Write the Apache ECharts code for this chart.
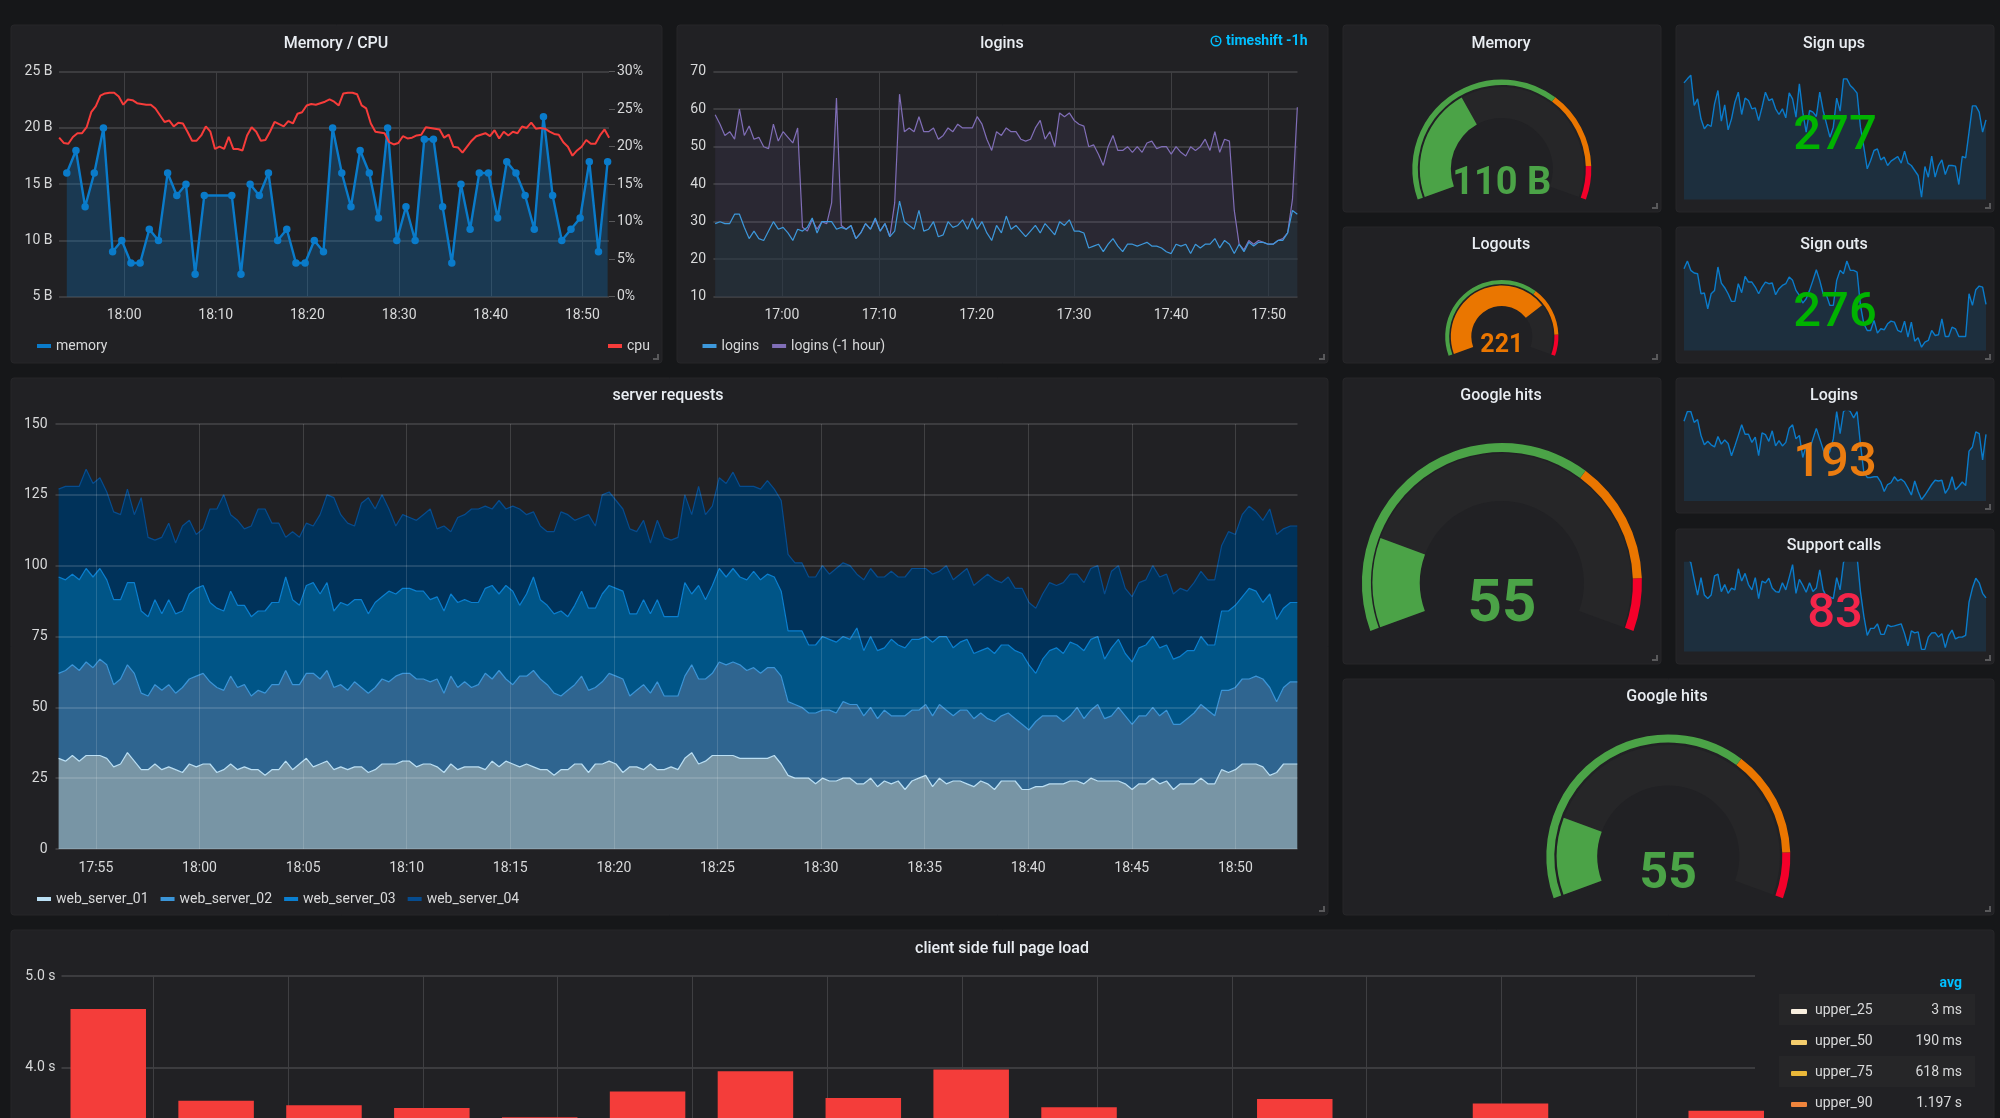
<!DOCTYPE html>
<html>
<head>
<meta charset="utf-8">
<title>Grafana dashboard</title>
<script src="https://cdn.jsdelivr.net/npm/echarts@6/dist/echarts.min.js"></script>
<style>
  html, body { margin: 0; padding: 0; background: #161719; }
  #chart { width: 2000px; height: 1118px; }
</style>
</head>
<body>
<div id="chart"></div>
<script>
// Memory / CPU
const memoryBytes = [16, 18, 13, 16, 20, 9, 10, 8, 8, 11, 10, 16, 14, 15, 7, 14, null, null, 14, 7, 15, 14, 16, 10, 11, 8, 8, 10, 9, 20,
  16, 13, 18, 16, 12, 20, 10, 13, 10, 19, 19, 13, 8, 15, 11, 16, 16, 12, 17, 16, 14, 11, 21, 14, 10, 11, 12, 17, 9, 17];
const cpuPercent = [21.2, 20.5, 20.4, 21.3, 21.8, 21.8, 22.6, 24.6, 25.4, 26.8, 27.1, 27.2, 27.2, 26.7, 25.6, 26.3, 26.2, 25.8, 25.7, 25.6,
  25.6, 25.1, 24.2, 23.3, 23.5, 22.7, 23.2, 23.1, 22.0, 20.8, 20.8, 21.5, 22.7, 22.0, 19.7, 20.0, 19.7, 21.3, 19.7, 19.7,
  19.5, 21.5, 22.6, 22.0, 20.8, 20.9, 22.0, 23.3, 23.0, 22.7, 23.4, 23.1, 24.4, 24.6, 25.5, 25.7, 25.6, 25.8, 26.0, 26.3,
  26.0, 25.5, 27.1, 27.2, 27.2, 27.0, 25.5, 25.1, 23.1, 22.0, 21.9, 21.8, 20.6, 20.3, 20.5, 21.4, 21.1, 21.2, 21.5, 21.6,
  22.6, 22.5, 22.4, 22.3, 21.2, 21.6, 20.0, 19.9, 19.2, 20.0, 20.8, 21.4, 21.6, 21.8, 21.4, 22.2, 21.1, 22.0, 21.5, 22.0,
  21.8, 22.7, 22.5, 23.2, 22.4, 22.5, 22.4, 22.0, 21.7, 21.6, 20.6, 20.0, 18.8, 19.5, 20.0, 20.9, 20.4, 20.4, 21.5, 22.3, 21.2];

// logins
const loginsNow = [29.5, 30, 29.5, 29.5, 32, 32, 28.5, 25.5, 27.5, 25.5,
  25, 27.5, 30, 28, 28.5, 27, 25, 28, 27.5, 28.5,
  31, 27, 30, 30, 30, 28, 28.5, 28, 29, 25.5,
  27, 29.5, 28, 31, 27.5, 29.5, 26, 27.5, 35.5, 30,
  29, 28, 33, 27.5, 28, 30, 26, 26.5, 30, 28.5,
  29, 30.5, 28, 31, 28, 30, 27, 25, 29, 27,
  31.5, 28, 29, 27.5, 26, 27.5, 29, 27, 29.5, 28,
  26.5, 30, 29, 30.5, 27.5, 27.5, 27, 23, 23.5, 24,
  22, 24, 25.5, 23.5, 22, 24, 24, 23.5, 24, 24.5,
  23.5, 23.5, 23, 22, 21.5, 24, 23.5, 24, 21.5, 24,
  23, 24, 24, 25.5, 23, 25, 24, 21.5, 24, 22,
  24.5, 23.5, 24.5, 24.5, 24, 24, 25, 25, 27, 33, 32];
const loginsHourAgo = [58.5, 56, 53, 54, 52, 60, 53, 55.5, 52, 52.5,
  50, 49.5, 56, 51.5, 54, 52.5, 51, 55, 28.5, 27.5,
  30.5, 28, 30, 29.5, 35, 63, 29, 28, 29, 25.5,
  27, 29.5, 28, 30.5, 27.5, 29.5, 26, 35, 64, 54,
  55, 54, 58, 54, 54, 55, 52, 53, 55, 54,
  56, 55, 55, 55, 58, 56, 52, 49, 54, 53,
  55, 54, 54, 52, 51.5, 52, 55, 57, 52, 54,
  50, 59, 58, 59, 57, 56, 55.5, 50, 50.5, 48,
  45, 50, 53, 49, 49, 50, 48.5, 50, 48.5, 51,
  51.5, 49.5, 50, 50, 48, 50, 48.5, 47.5, 50, 49,
  50, 52, 49, 54, 48.5, 52, 51.5, 33, 24, 22.5,
  25, 24, 25, 24.5, 24, 24, 25, 25.5, 27, 36, 60.5];

const topOfServer01 = [32, 31, 33, 31, 33, 33, 33, 32, 29, 30,
  34, 31, 28, 28, 30, 28, 29, 28, 27, 30,
  29, 30, 30, 27, 28, 30, 28, 29, 28, 28,
  26, 28, 28, 31, 28, 30, 32, 29, 30, 31,
  28, 29, 28, 29, 29, 27, 28, 30, 30, 30,
  31, 31, 29, 30, 30, 29, 27, 30, 28, 29,
  29, 29, 28, 31, 29, 31, 30, 29, 30, 29,
  28, 28, 26, 28, 28, 30, 30, 27, 30, 30,
  31, 30, 27, 29, 29, 28, 30, 28, 28, 29,
  28, 32, 34, 30, 31, 33, 33, 33, 33, 32,
  32, 32, 32, 32, 33, 30, 26, 25, 25, 25,
  23, 25, 24, 24, 25, 25, 23, 23, 25, 22,
  24, 23, 24, 21, 24, 25, 26, 22, 25, 23,
  24, 24, 23, 22, 24, 23, 21, 24, 24, 24,
  21, 21, 22, 22, 23, 23, 23, 24, 24, 23,
  25, 24, 24, 24, 24, 23, 21, 23, 23, 25,
  23, 24, 21, 23, 23, 23, 25, 23, 23, 28,
  27, 28, 30, 30, 30, 29, 26, 27, 30, 30, 30];
const topOfServer02 = [62, 63, 65, 63, 66, 64, 67, 65, 58, 60,
  65, 62, 55, 54, 58, 56, 58, 55, 57, 60,
  61, 62, 59, 57, 56, 61, 57, 58, 54, 56,
  55, 58, 58, 63, 58, 58, 62, 62, 60, 63,
  57, 58, 56, 59, 57, 55, 57, 60, 59, 61,
  62, 62, 60, 60, 59, 60, 55, 61, 57, 59,
  57, 58, 62, 60, 63, 60, 58, 61, 61, 63,
  60, 58, 55, 54, 56, 58, 61, 56, 57, 59,
  62, 61, 60, 54, 56, 58, 55, 59, 54, 54,
  54, 61, 65, 60, 60, 62, 66, 65, 66, 65,
  63, 64, 62, 64, 64, 61, 52, 51, 50, 48,
  48, 49, 49, 48, 52, 51, 51, 47, 50, 46,
  49, 47, 47, 47, 49, 49, 51, 47, 51, 49,
  47, 49, 49, 46, 48, 46, 45, 47, 48, 46,
  44, 42, 45, 47, 47, 47, 45, 47, 50, 46,
  49, 51, 46, 47, 50, 47, 44, 47, 47, 50,
  47, 49, 44, 44, 46, 48, 51, 49, 47, 56,
  56, 57, 60, 60, 61, 60, 57, 52, 57, 59, 59];
const topOfServer03 = [96, 95, 97, 95, 99, 96, 99, 95, 88, 88,
  94, 94, 84, 82, 88, 83, 88, 83, 84, 90,
  92, 93, 87, 85, 84, 91, 86, 86, 82, 84,
  84, 87, 87, 96, 88, 86, 93, 94, 90, 94,
  84, 87, 86, 88, 88, 83, 87, 89, 91, 90,
  92, 92, 91, 91, 88, 89, 84, 90, 87, 88,
  87, 87, 92, 93, 90, 93, 91, 86, 90, 96,
  88, 86, 83, 84, 82, 86, 91, 85, 85, 90,
  93, 92, 91, 83, 83, 88, 83, 88, 82, 82,
  82, 94, 90, 93, 88, 93, 99, 96, 99, 96,
  95, 98, 95, 97, 96, 91, 77, 77, 77, 72,
  72, 75, 74, 73, 75, 74, 78, 70, 75, 70,
  71, 74, 72, 71, 74, 74, 75, 73, 75, 75,
  71, 73, 74, 69, 70, 71, 69, 72, 72, 70,
  69, 65, 62, 67, 70, 71, 69, 73, 72, 70,
  74, 75, 67, 71, 74, 69, 66, 71, 72, 75,
  71, 72, 67, 68, 70, 70, 75, 72, 72, 84,
  84, 86, 89, 92, 91, 87, 90, 81, 85, 87, 87];
const topOfServer04 = [127, 128, 128, 128, 134, 129, 131, 126, 119, 118,
  127, 118, 124, 110, 109, 110, 115, 108, 114, 116,
  111, 113, 120, 120, 125, 118, 116, 113, 114, 120,
  120, 115, 115, 110, 112, 110, 115, 114, 118, 125,
  124, 118, 115, 114, 122, 124, 120, 125, 120, 114,
  118, 117, 116, 118, 120, 113, 114, 112, 117, 118,
  120, 120, 121, 120, 123, 120, 121, 120, 118, 119,
  114, 112, 112, 119, 118, 116, 117, 118, 114, 125,
  126, 123, 120, 113, 112, 116, 108, 116, 110, 109,
  110, 125, 118, 128, 118, 121, 131, 129, 133, 128,
  128, 128, 127, 130, 127, 123, 104, 101, 101, 96,
  96, 100, 97, 99, 101, 100, 97, 95, 99, 96,
  96, 98, 96, 96, 99, 99, 99, 97, 98, 100,
  95, 97, 99, 93, 95, 97, 95, 94, 96, 92,
  92, 87, 85, 90, 94, 93, 94, 97, 97, 94,
  99, 100, 90, 98, 100, 92, 89, 94, 95, 100,
  96, 97, 90, 92, 91, 94, 98, 95, 95, 107,
  112, 111, 118, 121, 119, 116, 120, 111, 113, 114, 114];

// sparklines (no axis in the picture, so values are relative heights)
const signUps = [350, 362, 373, 282, 302, 242, 212, 225, 219, 287, 327, 235, 284, 209, 242, 292, 322, 255, 304, 297,
  272, 275, 237, 277, 322, 297, 302, 272, 255, 272, 245, 320, 302, 247, 347, 262, 202, 267, 262, 249,
  322, 267, 227, 187, 217, 304, 265, 362, 362, 342, 332, 319, 217, 157, 92, 117, 147, 152, 119, 127,
  102, 115, 122, 129, 109, 145, 109, 102, 87, 72, 7, 99, 67, 130, 67, 102, 119, 75, 102, 102,
  100, 45, 129, 125, 202, 281, 281, 262, 202, 239];
const signOuts = [245, 268, 240, 232, 230, 170, 172, 125, 170, 180, 250, 202, 188, 170, 147, 147, 200, 173, 222, 205,
  205, 190, 170, 190, 205, 200, 202, 167, 185, 195, 200, 220, 210, 180, 165, 142, 155, 180, 210, 242,
  210, 170, 165, 135, 135, 210, 240, 230, 268, 240, 240, 235, 135, 80, 60, 60, 90, 52, 65, 62,
  80, 88, 85, 60, 55, 88, 40, 85, 28, 38, 10, 25, 30, 60, 45, 47, 95, 42, 42, 70,
  65, 42, 42, 42, 170, 135, 182, 193, 190, 138];
const loginsSpark = [227, 255, 255, 224, 232, 187, 160, 170, 160, 154, 184, 162, 174, 164, 129, 157, 187, 217, 190, 190,
  167, 182, 129, 194, 189, 170, 200, 157, 172, 157, 167, 207, 217, 177, 187, 124, 157, 147, 177, 207,
  177, 147, 122, 142, 177, 255, 192, 255, 262, 255, 237, 255, 162, 82, 67, 67, 69, 69, 54, 27,
  47, 52, 69, 57, 62, 54, 37, 17, 57, 27, 4, 17, 32, 47, 59, 57, 59, 22, 37, 69,
  32, 42, 54, 44, 142, 154, 197, 192, 117, 190];
const supportCalls = [266, 266, 254, 206, 161, 211, 161, 151, 161, 216, 221, 171, 191, 166, 181, 176, 236, 201, 223, 191,
  176, 211, 151, 201, 196, 209, 181, 171, 169, 196, 176, 211, 248, 166, 206, 189, 169, 196, 171, 181,
  233, 176, 156, 156, 151, 211, 176, 254, 271, 271, 271, 271, 171, 101, 46, 66, 66, 79, 49, 49,
  76, 71, 73, 76, 79, 51, 16, 59, 53, 56, 6, 6, 41, 53, 54, 41, 51, 11, 46, 61,
  36, 41, 41, 46, 141, 181, 209, 196, 166, 153];

// client side full page load, seconds; bars 10, 12 and 14 end below the visible part
const pageLoadSeconds = [4.64, 3.64, 3.59, 3.56, 3.46, 3.74, 3.96, 3.67, 3.98, 3.57, 3.3, 3.66, 3.3, 3.61, 3.3, 3.53];
const pageLoadLegendNames = ['upper_25', 'upper_50', 'upper_75', 'upper_90'];
const pageLoadLegendAvgs = ['3 ms', '190 ms', '618 ms', '1.197 s'];

// gauges and single stats
const gaugeMax = 300;
const gaugeThresholds = [200, 270];
const memoryGaugeValue = 110;
const logoutsGaugeValue = 221;
const googleHitsGaugeValue = 55;
const signUpsTotal = 277;
const signOutsTotal = 276;
const loginsTotal = 193;
const supportCallsTotal = 83;

const FONT = 'Roboto, "Noto Sans", sans-serif';
const TEXT = '#d8d9da';
const TITLE = '#e9edf2';
const GRID_H = '#464648';
const GRID_V = '#3f3f42';
const PANEL = '#212124';
const GREEN = '#4ba347';
const ORANGE = '#ea7600';
const RED = '#f4002a';
const BLUE = '#0a7bca';
const MIN = 60000;

const clock = (h, m, s = 0) => Date.UTC(2018, 0, 1, h, m, s);
const timed = (values, first, step) => values.map((v, i) => [first + i * step, v]);
const difference = (upper, lower) => upper.map((v, i) => v - lower[i]);

const grid = [];
const xAxis = [];
const yAxis = [];
const series = [];
const legend = [];
const title = [];
const graphic = [];

function addGrid(left, top, width, height) {
  // outerBoundsMode none: the page load grid runs past the bottom of the page on purpose
  grid.push({ left, top, width, height, outerBoundsMode: 'none' });
}

function addPanel(x, y, w, h, corner = true) {
  graphic.push({
    type: 'rect', z: -5, silent: true,
    shape: { x, y, width: w, height: h, r: 3 },
    style: { fill: PANEL, stroke: '#262629', lineWidth: 1 },
  });
  if (corner) {
    // resize handle in the bottom right corner
    graphic.push({
      type: 'polyline', z: -4, silent: true,
      shape: { points: [[x + w - 9, y + h - 4], [x + w - 4, y + h - 4], [x + w - 4, y + h - 9]] },
      style: { stroke: '#59595b', lineWidth: 2, fill: null },
    });
  }
}

function addTitle(text, x, y) {
  title.push({
    text, left: x, top: y, textAlign: 'center', textVerticalAlign: 'middle', padding: 0,
    textStyle: { color: TITLE, fontFamily: FONT, fontSize: 16, fontWeight: 500 },
  });
}

function addText(text, x, y, fontSize, color, align = 'center', fontWeight = 400) {
  graphic.push({
    type: 'text', z: 100, silent: true, x, y,
    style: { text, fontFamily: FONT, fontSize, fontWeight, fill: color, align, verticalAlign: 'middle' },
  });
}

function timeAxis(gridIndex, min, max, tickMinutes) {
  return {
    type: 'time', gridIndex, min, max,
    // keep the axis on min..max even with wide bars on it
    containShape: false,
    // ECharts rounds the tick interval down, so ask for slightly more than wanted
    minInterval: (tickMinutes + 0.5) * MIN,
    maxInterval: (tickMinutes + 0.5) * MIN,
    axisLine: { show: false },
    axisTick: { show: false },
    axisLabel: {
      color: TEXT, fontFamily: FONT, fontSize: 14, margin: 12,
      formatter: '{HH}:{mm}', showMinLabel: false, showMaxLabel: false, hideOverlap: false,
    },
    splitLine: { show: true, showMinLine: false, showMaxLine: false, lineStyle: { color: GRID_V, width: 1 } },
  };
}

function valueAxis(gridIndex, min, max, interval, formatter, margin) {
  return {
    type: 'value', gridIndex, min, max, interval,
    axisLine: { show: false },
    axisTick: { show: false },
    axisLabel: { color: TEXT, fontFamily: FONT, fontSize: 14, margin, formatter },
    splitLine: { show: true, lineStyle: { color: GRID_H, width: 1.5 } },
  };
}

function legendAt(left, top, names, itemGap = 14) {
  legend.push({
    left, top, data: names, icon: 'rect', itemWidth: 14, itemHeight: 4, itemGap,
    padding: 0, selectedMode: false,
    textStyle: { color: TEXT, fontFamily: FONT, fontSize: 14 },
  });
}

function addGauge(value, cx, cy, radius, ringWidth, arcOuter, arcInner, fontSize, offsetY, suffix = '') {
  const colour = value >= gaugeThresholds[1] ? RED : value >= gaugeThresholds[0] ? ORANGE : GREEN;
  const common = {
    type: 'gauge', center: [cx, cy], startAngle: 200, endAngle: -20, min: 0, max: gaugeMax,
    pointer: { show: false }, anchor: { show: false }, axisTick: { show: false },
    splitLine: { show: false }, axisLabel: { show: false }, title: { show: false },
    animation: false, silent: true,
  };
  // thin threshold ring
  series.push({
    ...common, radius,
    axisLine: {
      lineStyle: {
        width: ringWidth,
        color: [[gaugeThresholds[0] / gaugeMax, GREEN], [gaugeThresholds[1] / gaugeMax, ORANGE], [1, RED]],
      },
    },
    detail: { show: false },
    data: [{ value }],
  });
  // thick value arc
  series.push({
    ...common, radius: arcOuter,
    axisLine: { lineStyle: { width: arcOuter - arcInner, color: [[1, '#262628']] } },
    progress: { show: true, width: arcOuter - arcInner, itemStyle: { color: colour } },
    detail: {
      show: true, offsetCenter: [0, offsetY], color: colour, fontFamily: FONT, fontSize, fontWeight: 700,
      formatter: (v) => v + suffix,
    },
    data: [{ value }],
  });
}

function addSparkline(values, left, top, right, bottom, axisMax) {
  const index = grid.length;
  addGrid(left, top, right - left, bottom - top);
  xAxis.push({ type: 'category', gridIndex: index, show: false, boundaryGap: false, data: values.map((_, i) => i) });
  yAxis.push({ type: 'value', gridIndex: index, show: false, min: 0, max: axisMax, splitLine: { show: false } });
  series.push({
    type: 'line', xAxisIndex: xAxis.length - 1, yAxisIndex: yAxis.length - 1, data: values,
    showSymbol: false, silent: true, lineStyle: { color: BLUE, width: 1.4 },
    itemStyle: { color: BLUE }, areaStyle: { color: BLUE, opacity: 0.16 },
  });
}

// panels
addPanel(11, 25, 651, 338);
addPanel(677, 25, 651, 338);
addPanel(1343, 25, 318, 187);
addPanel(1676, 25, 318, 187);
addPanel(1343, 227, 318, 136);
addPanel(1676, 227, 318, 136);
addPanel(11, 378, 1317, 537);
addPanel(1343, 378, 318, 286);
addPanel(1676, 378, 318, 135);
addPanel(1676, 529, 318, 135);
addPanel(1343, 679, 651, 236);
addPanel(11, 930, 1983, 240, false);

addTitle('Memory / CPU', 336, 44);
addTitle('logins', 1002, 44);
addTitle('Memory', 1501, 44);
addTitle('Sign ups', 1834, 44);
addTitle('Logouts', 1501, 245);
addTitle('Sign outs', 1834, 245);
addTitle('server requests', 668, 396);
addTitle('Google hits', 1501, 396);
addTitle('Logins', 1834, 396);
addTitle('Support calls', 1834, 546);
addTitle('Google hits', 1667, 697);
addTitle('client side full page load', 1002, 949);

// Memory / CPU: left axis in bytes, right axis in percent
addGrid(59, 71.7, 550, 225);
xAxis.push(timeAxis(0, clock(17, 52, 54), clock(18, 52, 54), 10));
yAxis.push(valueAxis(0, 5, 25, 5, '{value} B', 6.5));
yAxis.push({
  ...valueAxis(0, 0, 30, 5, '{value}%', 8), position: 'right',
  axisTick: { show: true, length: 6, lineStyle: { color: '#59595b' } },
  splitLine: { show: false },
});
series.push({
  name: 'memory', type: 'line', xAxisIndex: 0, yAxisIndex: 0, connectNulls: true,
  data: timed(memoryBytes, clock(17, 53, 45), MIN),
  showSymbol: true, showAllSymbol: true, symbol: 'circle', symbolSize: 7.5, silent: true,
  lineStyle: { color: BLUE, width: 2.4 }, itemStyle: { color: BLUE },
  areaStyle: { color: BLUE, opacity: 0.28 },
});
series.push({
  name: 'cpu', type: 'line', xAxisIndex: 0, yAxisIndex: 1,
  data: timed(cpuPercent, clock(17, 52, 55), 30000),
  showSymbol: false, silent: true,
  lineStyle: { color: '#f73c3a', width: 2 }, itemStyle: { color: '#f73c3a' },
});
legendAt(37, 339, ['memory']);
legendAt(608, 339, ['cpu']);

// logins
addGrid(713.4, 71.7, 584.1, 225);
xAxis.push(timeAxis(1, clock(16, 52, 58), clock(17, 52, 58), 10));
yAxis.push(valueAxis(1, 10, 70, 10, '{value}', 7.4));
series.push({
  name: 'logins (-1 hour)', type: 'line', xAxisIndex: 1, yAxisIndex: 2,
  data: timed(loginsHourAgo, clock(16, 53, 9), 29900),
  showSymbol: false, silent: true,
  lineStyle: { color: '#806eb7', width: 1.2 }, itemStyle: { color: '#806eb7' },
  areaStyle: { color: '#806eb7', opacity: 0.1 },
});
series.push({
  name: 'logins', type: 'line', xAxisIndex: 1, yAxisIndex: 2,
  data: timed(loginsNow, clock(16, 53, 9), 29900),
  showSymbol: false, silent: true,
  lineStyle: { color: '#3d98db', width: 1.2 }, itemStyle: { color: '#3d98db' },
  areaStyle: { color: 'rgb(30,50,57)', opacity: 0.5 },
});
legendAt(702.5, 339, ['logins', 'logins (-1 hour)'], 13);
addText('timeshift -1h', 1226, 41, 14, '#00bfff', 'left', 700);
graphic.push({
  type: 'circle', z: 100, silent: true, shape: { cx: 1216, cy: 41, r: 4.8 },
  style: { fill: null, stroke: '#00bfff', lineWidth: 1.5 },
});
graphic.push({
  type: 'polyline', z: 100, silent: true, shape: { points: [[1216, 38], [1216, 41.5], [1218.5, 41.5]] },
  style: { fill: null, stroke: '#00bfff', lineWidth: 1.2 },
});

// server requests: grid lines sit above the opaque fills and show through them
const web01 = topOfServer01;
const web02 = difference(topOfServer02, topOfServer01);
const web03 = difference(topOfServer03, topOfServer02);
const web04 = difference(topOfServer04, topOfServer03);
addGrid(55.5, 424, 1242, 425);
const requestsX = timeAxis(2, clock(17, 53, 3), clock(18, 53, 0), 5);
requestsX.z = 5;
requestsX.splitLine.lineStyle.color = 'rgba(255,255,255,0.14)';
xAxis.push(requestsX);
const requestsY = valueAxis(2, 0, 150, 25, '{value}', 8);
requestsY.z = 5;
requestsY.splitLine.lineStyle.color = 'rgba(255,255,255,0.17)';
yAxis.push(requestsY);
[
  ['web_server_01', web01, '#badff4', '#7895a5'],
  ['web_server_02', web02, '#3b95d8', '#2f6590'],
  ['web_server_03', web03, '#0a7fd0', '#005587'],
  ['web_server_04', web04, '#064c8f', '#00325a'],
].forEach(([name, values, line, fill]) => {
  series.push({
    name, type: 'line', xAxisIndex: 2, yAxisIndex: 3, stack: 'requests',
    data: timed(values, clock(17, 53, 12), 19930),
    showSymbol: false, silent: true,
    lineStyle: { color: line, width: 1.2 }, itemStyle: { color: line },
    areaStyle: { color: fill, opacity: 1 },
  });
});
legendAt(37, 892, ['web_server_01', 'web_server_02', 'web_server_03', 'web_server_04'], 12);

// client side full page load, cut off by the bottom of the page
addGrid(61.5, 976, 1693.5, 183.4);
xAxis.push(timeAxis(3, clock(17, 58), clock(18, 58), 5));
yAxis.push(valueAxis(3, 3, 5, 1, (v) => v.toFixed(1) + ' s', 6));
series.push({
  name: 'upper_95', type: 'bar', xAxisIndex: 3, yAxisIndex: 4, barWidth: 75.5, silent: true,
  data: timed(pageLoadSeconds, clock(17, 58, 20), 4 * MIN),
  itemStyle: { color: '#f43d3a' },
});
graphic.push({
  type: 'rect', z: -3, silent: true, shape: { x: 1779, y: 994, width: 196, height: 31 }, style: { fill: '#262628' },
});
graphic.push({
  type: 'rect', z: -3, silent: true, shape: { x: 1779, y: 1056, width: 196, height: 31 }, style: { fill: '#262628' },
});
addText('avg', 1962, 983, 14, '#00bfff', 'right', 700);
const legendSwatches = ['#f9efdf', '#f4cd6d', '#eab839', '#ef843c'];
pageLoadLegendNames.forEach((name, i) => {
  const y = 1010 + i * 31;
  graphic.push({
    type: 'rect', z: 100, silent: true, shape: { x: 1791, y: y - 1, width: 16, height: 5, r: 1 },
    style: { fill: legendSwatches[i] },
  });
  addText(name, 1815, y, 14, TEXT, 'left');
  addText(pageLoadLegendAvgs[i], 1962, y, 14, TEXT, 'right');
});

// gauges
addGauge(memoryGaugeValue, 1501.8, 169, 89.5, 5.5, 82, 51, 38, 15, ' B');
addGauge(logoutsGaugeValue, 1501.8, 336.5, 56.6, 4, 51, 30.5, 25, 9);
addGauge(googleHitsGaugeValue, 1501.9, 583, 140, 9, 129.5, 82, 60, 23);
addGauge(googleHitsGaugeValue, 1668.3, 856.5, 122, 8, 111.5, 71, 50, 19);

// sparklines with the current value on top
addSparkline(signUps, 1684, 74.5, 1986, 199.5, 375);
addSparkline(signOuts, 1684, 261, 1986, 350.5, 268);
addSparkline(loginsSpark, 1684, 411.5, 1986, 501, 255);
addSparkline(supportCalls, 1684, 562.5, 1986, 651.5, 254);
addText(String(signUpsTotal), 1835, 137, 49, '#00b300', 'center', 500);
addText(String(signOutsTotal), 1835, 314, 49, '#00b300', 'center', 500);
addText(String(loginsTotal), 1835, 464, 49, '#ea7c10', 'center', 500);
addText(String(supportCallsTotal), 1835, 615, 49, '#f4254a', 'center', 500);

const chart = echarts.init(document.getElementById('chart'), null, { renderer: 'canvas' });
chart.setOption({
  backgroundColor: '#161719',
  animation: false,
  useUTC: true,
  textStyle: { fontFamily: FONT },
  title, grid, xAxis, yAxis, series, legend, graphic,
});
</script>
</body>
</html>
